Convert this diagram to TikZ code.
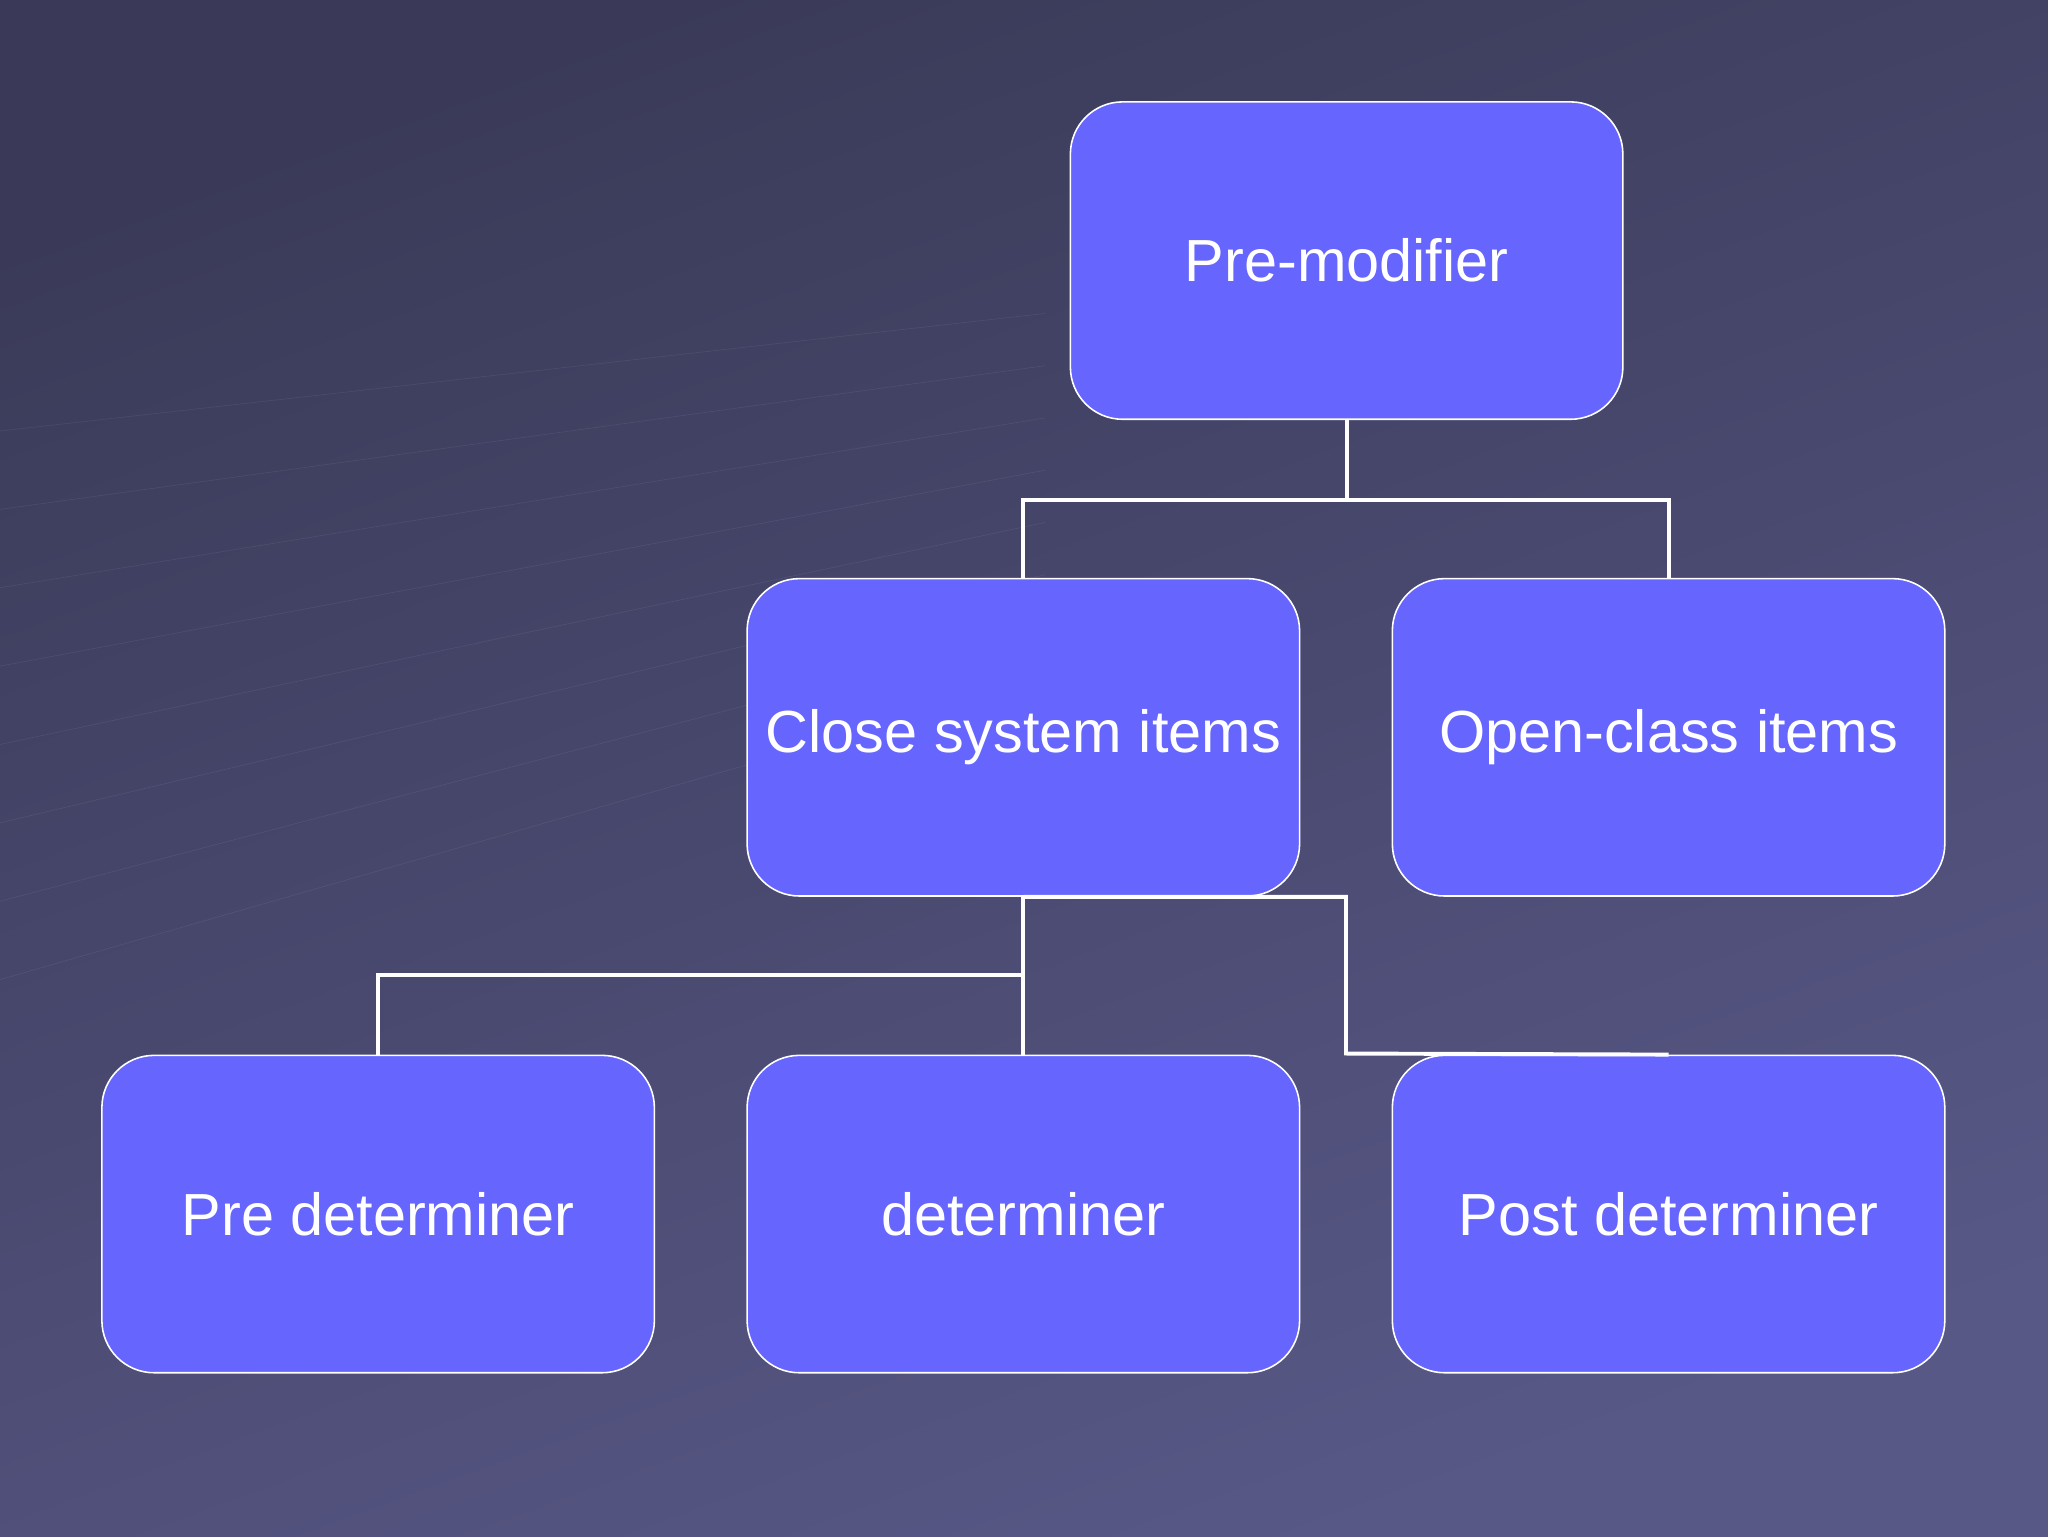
\documentclass[tikz,border=0pt]{standalone}
\usepackage{fontspec}
\setmainfont{Liberation Sans}
\begin{document}
\begin{tikzpicture}[x=1pt,y=-1pt,
  box/.style={draw=white,line width=1.2pt,fill={rgb,255:red,102;green,102;blue,255},rounded corners=40pt,minimum width=423pt,minimum height=243pt,text=white,font=\fontsize{45.5}{50}\selectfont,inner sep=0pt},
  conn/.style={draw=white,line width=3pt}]
\shade[top color={rgb,255:red,58;green,58;blue,88},bottom color={rgb,255:red,88;green,88;blue,135},shading angle=20] (0,0) rectangle (1568,1176);
\useasboundingbox (0,0) rectangle (1568,1176);
\foreach \i in {0,...,7}{
  \draw[white,opacity=0.08] (0,{330+\i*60}) -- (800,{240+\i*40});
}
\node[box] (pm) at (1031,199.5) {Pre-modifier};
\node[box] (cs) at (783.5,564.5) {Close system items};
\node[box] (oc) at (1277.5,564.5) {Open-class items};
\node[box] (pd) at (289.5,929.5) {Pre determiner};
\node[box] (d) at (783.5,929.5) {determiner};
\node[box] (po) at (1277.5,929.5) {Post determiner};
\draw[conn] (pm.south) -- ++(0,61) -| (cs.north);
\draw[conn] (pm.south) ++(0,61) -| (oc.north);
\draw[conn] (cs.south) -- ++(0,60) -| (pd.north);
\draw[conn] (cs.south) -- (d.north);
\draw[conn] (cs.south) -- ++(247,0) -- ++(0,120) -- (po.north);
\end{tikzpicture}
\end{document}
